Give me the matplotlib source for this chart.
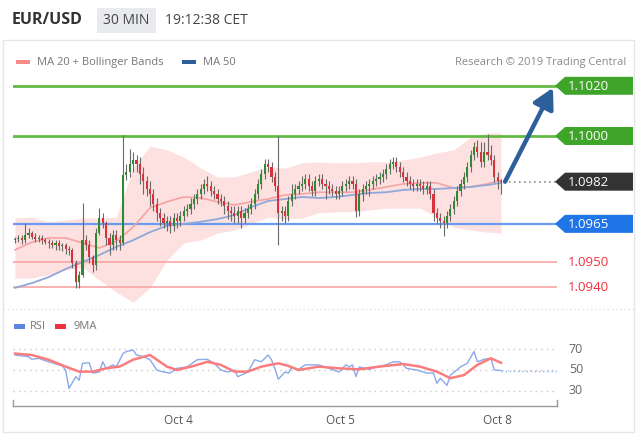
import matplotlib.pyplot as plt
import numpy as np
from matplotlib.patches import Polygon, Rectangle

plt.rcParams['font.family'] = ['Open Sans', 'DejaVu Sans']

W, H = 637, 436

# ---- price data (30 min candles, index 0..144) ----
open0 = 1.09584
closes = [
    1.09589, 1.09594, 1.09584, 1.09604, 1.09613, 1.09599, 1.09589, 1.09594, 1.09584, 1.09579,
    1.09574, 1.09565, 1.09574, 1.09560, 1.09565, 1.09550, 1.09545, 1.09496, 1.09418, 1.09448,
    1.09584, 1.09565, 1.09516, 1.09487, 1.09614, 1.09672, 1.09653, 1.09594, 1.09565, 1.09604,
    1.09584, 1.09574, 1.09845, 1.09858, 1.09887, 1.09906, 1.09887, 1.09848, 1.09819, 1.09789,
    1.09770, 1.09731, 1.09692, 1.09672, 1.09653, 1.09662, 1.09643, 1.09672, 1.09662, 1.09682,
    1.09701, 1.09711, 1.09731, 1.09750, 1.09770, 1.09789, 1.09809, 1.09799, 1.09780, 1.09770,
    1.09750, 1.09740, 1.09721, 1.09701, 1.09692, 1.09682, 1.09701, 1.09672, 1.09692, 1.09711,
    1.09731, 1.09770, 1.09809, 1.09848, 1.09887, 1.09877, 1.09838, 1.09799, 1.09692, 1.09701,
    1.09682, 1.09740, 1.09770, 1.09789, 1.09799, 1.09809, 1.09828, 1.09799, 1.09780, 1.09819,
    1.09828, 1.09809, 1.09799, 1.09789, 1.09780, 1.09770, 1.09780, 1.09799, 1.09809, 1.09819,
    1.09809, 1.09701, 1.09770, 1.09789, 1.09799, 1.09809, 1.09819, 1.09828, 1.09838, 1.09848,
    1.09867, 1.09887, 1.09897, 1.09877, 1.09858, 1.09838, 1.09819, 1.09809, 1.09799, 1.09809,
    1.09799, 1.09789, 1.09799, 1.09770, 1.09692, 1.09672, 1.09662, 1.09653, 1.09682, 1.09711,
    1.09740, 1.09780, 1.09809, 1.09838, 1.09877, 1.09926, 1.09955, 1.09936, 1.09897, 1.09936,
    1.09926, 1.09906, 1.09838, 1.09819, 1.09818,
]
# wick lengths beyond the body, in pips
wick_up = [
    1, 1, 1, 5, 2, 1, 1.5, 1, 1, 1,
    1, 1, 1, 1, 1, 1, 1, 1, 1, 1.5,
    15, 2, 2, 1, 2, 4, 2, 1, 2, 2,
    2, 2, 16, 3, 6, 3, 2, 3, 3, 2,
    3, 2, 2, 2, 2, 2, 2, 2, 2, 2,
    2, 2, 2, 2, 2, 2, 2, 3, 2, 2,
    2, 2, 2, 2, 2, 3, 2, 2, 2, 2,
    2, 2, 2, 2, 2, 2, 2, 2, 20, 2,
    2, 2, 4, 2, 2, 3, 2, 2, 2, 2,
    2, 2, 2, 2, 2, 2, 2, 2, 2, 2,
    2, 2, 2, 2, 2, 2, 2, 2, 2, 2,
    2, 2, 2, 2, 2, 2, 2, 2, 2, 2,
    2, 2, 2, 2, 2, 2, 2, 2, 2, 2,
    2, 2, 2, 2, 2, 2, 2, 3, 4, 4,
    7, 4, 2, 2, 1,
]
wick_dn = [
    1, 1, 1.5, 1, 1, 1, 1, 1, 1.5, 1,
    2, 1, 2, 1.5, 2, 2, 2, 2, 2.5, 2.5,
    1, 2, 2, 3, 2, 1, 2, 3, 4, 2,
    4, 3, 1, 2, 2, 3, 3, 4, 5, 3,
    5, 3, 3, 3, 2, 3, 3, 2, 3, 2,
    2, 2, 2, 2, 2, 2, 2, 2, 2, 2,
    2, 2, 3, 3, 3, 3, 3, 4, 2, 2,
    2, 2, 2, 2, 2, 2, 2, 2, 12.5, 3,
    3, 2, 2, 2, 2, 2, 2, 2, 2, 2,
    2, 2, 5, 2, 2, 2, 2, 2, 2, 2,
    2, 2.5, 2, 3, 2, 4, 2, 2, 2, 2,
    2, 2, 2, 2, 2, 2, 2, 2, 2, 2,
    2, 2, 2, 2, 3, 2, 3, 5, 2, 2,
    2, 2, 2, 2, 2, 2, 2, 2, 2, 2,
    2, 2, 2, 3, 5,
]

# indicator curves sampled every 5 candles
ind_idx = [0, 5, 10, 15, 20, 25, 30, 35, 40, 45, 50, 55, 60, 65, 70, 75, 80, 85, 90, 95,
           100, 105, 110, 115, 120, 125, 130, 135, 140, 144]
ma20 = [1.09546, 1.09577, 1.09594, 1.09594, 1.09574, 1.09554, 1.09581, 1.09637, 1.09713, 1.09738,
        1.09757, 1.09753, 1.09738, 1.09725, 1.09738, 1.09749, 1.09765, 1.09769, 1.09776, 1.09776,
        1.09776, 1.09785, 1.09797, 1.09809, 1.09813, 1.09813, 1.09793, 1.09797, 1.09809, 1.09824]
ma50 = [1.09395, 1.09414, 1.09438, 1.09470, 1.09498, 1.09526, 1.09558, 1.09585, 1.09617, 1.09642,
        1.09650, 1.09658, 1.09669, 1.09685, 1.09717, 1.09741, 1.09749, 1.09757, 1.09753, 1.09757,
        1.09765, 1.09773, 1.09776, 1.09785, 1.09789, 1.09789, 1.09793, 1.09797, 1.09805, 1.09813]
bb_upper = [1.09673, 1.09677, 1.09658, 1.09665, 1.09673, 1.09673, 1.09677, 1.09872, 1.09960, 1.09945,
            1.09916, 1.09872, 1.09837, 1.09837, 1.09857, 1.09876, 1.09872, 1.09893, 1.09897, 1.09893,
            1.09893, 1.09897, 1.09897, 1.09904, 1.09916, 1.09933, 1.09945, 1.09996, 1.10012, 1.10012]
bb_lower = [1.09434, 1.09434, 1.09447, 1.09466, 1.09478, 1.09426, 1.09378, 1.09338, 1.09395, 1.09506,
            1.09574, 1.09585, 1.09613, 1.09625, 1.09650, 1.09677, 1.09669, 1.09673, 1.09694, 1.09698,
            1.09698, 1.09705, 1.09713, 1.09713, 1.09713, 1.09677, 1.09637, 1.09625, 1.09617, 1.09613]

resistances = [1.1020, 1.1000]
pivot = 1.0965
supports = [1.0950, 1.0940]
last_label = "1.0982"
target = 1.1020

# RSI panel
rsi_idx = [0, 2, 4, 5, 7, 9, 11, 13, 14, 15, 16, 18, 19, 20, 22, 23, 25, 26, 27, 29,
           30, 32, 33, 35, 36, 38, 40, 42, 44, 46, 48, 51, 54, 57, 59, 61, 63, 65, 66, 69,
           71, 73, 75, 76, 77, 78, 80, 81, 82, 84, 86, 88, 90, 93, 96, 98, 99, 100, 101, 102,
           105, 107, 110, 112, 114, 115, 116, 119, 122, 124, 125, 126, 128, 129, 132, 134, 136, 137, 139, 141,
           142, 144]
rsi_val = [64.6, 63.7, 63, 60.4, 61.4, 59, 57, 55, 54, 50, 32, 43.5, 40, 56.5, 57, 47, 48, 58, 51.6, 55,
           53, 66, 68, 69.5, 64.6, 63, 60, 50, 48, 47, 51.6, 53, 60, 60.4, 56.5, 50, 48, 50, 43.5, 48,
           60, 58, 64.6, 60, 51.6, 41, 48, 47, 52.6, 50.6, 55, 55, 55, 51.6, 48, 55, 53, 55, 43.5, 53,
           50.6, 53, 55, 58, 58, 55, 51.6, 50, 47, 47, 37, 42, 35, 45, 53, 56.5, 68, 58, 60.4, 61.4,
           50, 49.5]
ma9_idx = [0, 5, 10, 15, 19, 23, 27, 31, 35, 40, 45, 48, 53, 57, 61, 65, 69, 73, 78, 81,
           84, 87, 90, 96, 102, 108, 115, 120, 125, 129, 133, 137, 141, 144]
ma9_val = [66, 64.6, 60, 53.3, 48.4, 48.4, 51.6, 53.3, 60, 64.6, 53.3, 50, 54, 58, 55, 48.4, 48.4, 53.3, 56.5, 54,
           50, 51.6, 53.3, 51.6, 50.6, 53.3, 55.8, 53.3, 48.4, 42, 45, 55, 61.4, 57]
rsi_levels = [70, 50, 30]

day_pos = [48.3, 96.3, 142.8]
day_labels = ["Oct 4", "Oct 5", "Oct 8"]

GREEN = '#3fa52a'
GREEN_LINE = '#63bb45'
BLUE_TAG = '#1f74e6'
DARK_TAG = '#333333'
RED_TXT = '#f2303a'

fig = plt.figure(figsize=(W / 100, H / 100), dpi=100)
fig.patch.set_facecolor('white')


def frac(x0, y0, x1, y1):
    return [x0 / W, 1 - y1 / H, (x1 - x0) / W, (y1 - y0) / H]


# ---- main price panel ----
ax = fig.add_axes(frac(13, 75, 557, 305))
ax.set_xlim(-0.593, 160.59)
ax.set_ylim(1.093267, 1.102430)
ax.axis('off')

closes_a = np.array(closes)
opens = np.concatenate([[open0], closes_a[:-1]])
idx = np.arange(len(closes_a))
highs = np.maximum(opens, closes_a) + np.array(wick_up) * 1e-4
lows = np.minimum(opens, closes_a) - np.array(wick_dn) * 1e-4
rising = closes_a >= opens

ax.fill_between(ind_idx, bb_lower, bb_upper, color='#fde0e0', lw=0, zorder=1)
ax.plot(ind_idx, ma20, color='#f6a3a3', lw=1.2, zorder=2)
ax.plot(ind_idx, ma50, color='#8fa8d8', lw=1.3, zorder=2)

for lv in resistances:
    ax.axhline(lv, color=GREEN_LINE, lw=2, zorder=1.5)
ax.axhline(pivot, color='#6b9bf0', lw=1.6, zorder=1.5)
for lv in supports:
    ax.axhline(lv, color='#f9a5a5', lw=1.2, zorder=1.5)

ax.vlines(idx, lows, highs, color='#6a6a6a', lw=0.8, zorder=3)
body = np.maximum(np.abs(closes_a - opens), 0.00004)
ax.bar(idx, body, width=0.62, bottom=np.minimum(opens, closes_a),
       color=np.where(rising, '#2f8a2f', '#d8323c'), lw=0, zorder=4)

# current price dotted extension
ax.plot([idx[-1] + 1, ax.get_xlim()[1]], [closes[-1], closes[-1]],
        color='#8a8a8a', lw=1.2, ls=(0, (1, 2)), zorder=2)

# forecast arrow
ax.annotate('', xy=(ax.get_xlim()[1] - 1.2, target - 0.00008),
            xytext=(idx[-1] + 1.2, closes[-1]),
            arrowprops=dict(arrowstyle='-|>,head_length=0.55,head_width=0.3',
                            lw=3.2, color='#2d5f9b', shrinkA=0, shrinkB=0,
                            mutation_scale=22),
            annotation_clip=False, zorder=6)

# ---- RSI panel ----
ax2 = fig.add_axes(frac(13, 335, 557, 406))
ax2.set_xlim(-0.593, 160.59)
ax2.set_ylim(14.9, 84.1)
for s in ['top', 'right', 'left']:
    ax2.spines[s].set_visible(False)
ax2.spines['bottom'].set_color('#9a9a9a')
ax2.spines['bottom'].set_linewidth(1.0)
ax2.set_yticks([])
ax2.set_xticks(day_pos)
ax2.set_xticklabels(day_labels, color='#555555', fontsize=8.5)
ax2.tick_params(axis='x', length=0, pad=6)
for xe in (0, 1):
    ax2.plot([xe, xe], [0, 0.08], transform=ax2.transAxes, color='#9a9a9a',
             lw=1.0, clip_on=False)
for lv in rsi_levels:
    ax2.axhline(lv, color='#c8c8c8', lw=1.0, ls=(0, (1, 3)), zorder=1)
    ax2.text(1.035, lv, str(lv), transform=ax2.get_yaxis_transform(),
             va='center', ha='center', fontsize=9, color='#666666')
ax2.plot(rsi_idx, rsi_val, color='#8aa9ec', lw=1.0, zorder=3)
ax2.plot(ma9_idx, ma9_val, color='#fb7c7c', lw=1.8, zorder=4)
ax2.plot([rsi_idx[-1], ax2.get_xlim()[1]], [rsi_val[-1], rsi_val[-1]],
         color='#8aa9ec', lw=1.0, ls=(0, (1, 2)), zorder=2)

# ---- overlay: header, legends, price tags ----
ov = fig.add_axes([0, 0, 1, 1], zorder=10)
ov.set_xlim(0, W)
ov.set_ylim(H, 0)
ov.axis('off')
ov.patch.set_alpha(0)

ov.add_patch(Rectangle((3, 40), 631, 392, fill=False, ec='#e6e6e6', lw=1))
ov.plot([3, 634], [309, 309], color='#e2e2e2', lw=1, ls=(0, (1, 2)))

ov.text(12, 20, "EUR/USD", fontsize=11.5, fontweight='bold', color='#333333', va='center')
ov.add_patch(Rectangle((97, 8), 59, 25, color='#e8eaed', lw=0))
ov.text(126.5, 20.5, "30 MIN", fontsize=10, color='#444444', va='center', ha='center')
ov.text(165, 20.5, "19:12:38 CET", fontsize=10, color='#444444', va='center')

ov.add_patch(Rectangle((16, 60), 14, 4.5, color='#f78b8b', lw=0))
ov.text(37, 62.5, "MA 20 + Bollinger Bands", fontsize=8, color='#777777', va='center')
ov.add_patch(Rectangle((182, 60), 14, 4.5, color='#2d5f9b', lw=0))
ov.text(203, 62.5, "MA 50", fontsize=8, color='#777777', va='center')
ov.text(626, 62.5, "Research \u00a9 2019 Trading Central", fontsize=8, color='#8a8a8a',
        va='center', ha='right')

ov.add_patch(Rectangle((14, 324), 11, 4.5, color='#5b86e0', lw=0))
ov.text(30, 326.5, "RSI", fontsize=8, color='#777777', va='center')
ov.add_patch(Rectangle((55, 324), 11, 4.5, color='#f0303a', lw=0))
ov.text(73, 326.5, "9MA", fontsize=8, color='#777777', va='center')


def py(price):
    return H - ax.transData.transform((0, price))[1]


def tag(price, text, color):
    y = py(price)
    ov.add_patch(Polygon([(555, y), (565, y - 9), (633, y - 9), (633, y + 9), (565, y + 9)],
                         closed=True, color=color, lw=0))
    ov.text(568, y + 0.5, text, fontsize=9.5, color='white', va='center')


for lv in resistances:
    tag(lv, f"{lv:.4f}", GREEN)
tag(closes[-1], last_label, DARK_TAG)
tag(pivot, f"{pivot:.4f}", BLUE_TAG)
for lv in supports:
    ov.text(568, py(lv) + 0.5, f"{lv:.4f}", fontsize=9.5, color=RED_TXT, va='center')

fig.savefig('out.png', dpi=100)
